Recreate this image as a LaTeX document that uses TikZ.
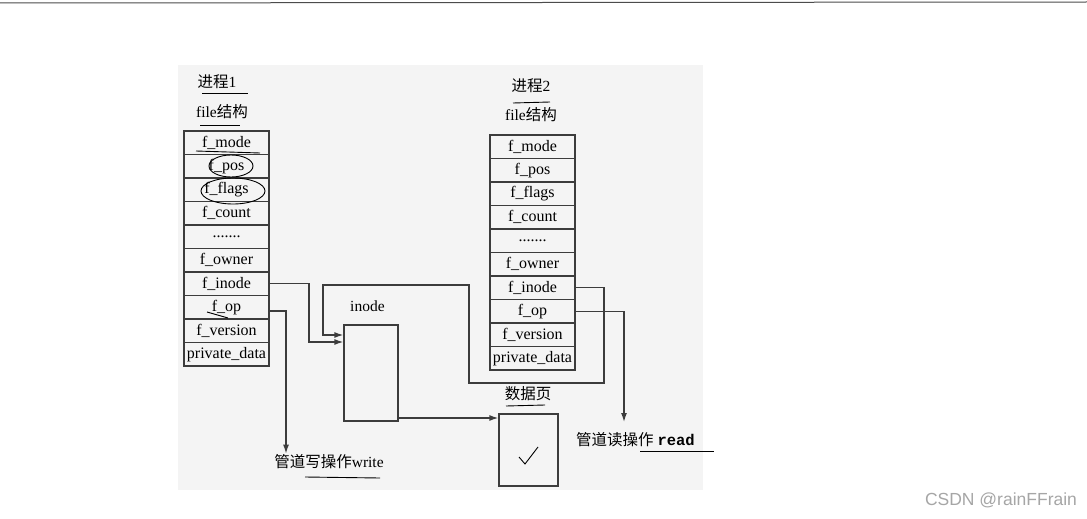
\documentclass[tikz,border=0pt]{standalone}
\usepackage{fontspec}
\setmainfont{Liberation Serif}
\newfontfamily\cjk{Noto Sans CJK SC}
\newfontfamily\wmfont{Liberation Sans}
\newfontfamily\codefont{Liberation Mono}
\usepackage{tikz}
\usetikzlibrary{arrows.meta, positioning}
\definecolor{lineGray}{RGB}{60,60,60}
\definecolor{paperGray}{RGB}{244,244,244}
\newcommand{\rowdots}{.......}

\begin{document}
\begin{tikzpicture}[x=1pt, y=-1pt,
    cell/.style={rectangle, draw=lineGray, line width=1.2pt, minimum width=85pt, minimum height=23.5pt, inner sep=0pt, font=\fontsize{16}{16}\selectfont},
    block/.style={rectangle, draw=lineGray, line width=1.3pt, inner sep=0pt},
    label/.style={inner sep=1pt, font=\fontsize{15.5}{15.5}\selectfont},
    arrow/.style={-{Latex[length=9pt, width=6pt]}, lineGray, line width=1.3pt},
    hand/.style={black, line width=0.9pt}
]
\useasboundingbox (0,0) rectangle (1087,519);
\fill[white] (0,0) rectangle (1087,519);
\draw[black!70, line width=1pt] (0,3) -- (1087,2);
\fill[paperGray] (178,65) rectangle (703,490);

% file structures of both processes
\foreach \name [count=\i] in {f\_mode, f\_pos, f\_flags, f\_count, \rowdots, f\_owner, f\_inode, f\_op, f\_version, private\_data} {
  \node[cell] (l\i) at (226.5, 119.25 + 23.5*\i) {\name};
  \node[cell] (r\i) at (532.5, 123.25 + 23.5*\i) {\name};
}

\node[label] (p1) at (217,82) {{\cjk 进程}1};
\node[label] (s1) at (222,112) {file{\cjk 结构}};
\node[label] (p2) at (531,86) {{\cjk 进程}2};
\node[label] (s2) at (531,115) {file{\cjk 结构}};

\node[label, anchor=west] (inodeLbl) at (349,306) {inode};
\node[block, minimum width=54pt, minimum height=96pt] (inode) at (371,373) {};
\node[label] (pageLbl) at (528,394) {{\cjk 数据页}};
\node[block, minimum width=59pt, minimum height=72pt] (page) at (528.5,450) {};
\node[label] (wr) at (329,462) {{\cjk 管道写操作}write};
\node[label, anchor=west] (rd) at (575,440) {{\cjk 管道读操作} {\codefont\bfseries read}};

\coordinate (inA) at (inode.west |- 0,335);
\coordinate (inB) at (inode.west |- 0,342);
\coordinate (pageIn) at (page.west |- 0,418);

% connectors
\draw[arrow] (l7.east) -| (309,342) -- (inB);
\draw[arrow] (r7.east) -| (604,383) -| (469,285) -| (323,335) -- (inA);
\draw[arrow] (inode.south east |- 0,418) -- (pageIn);
\draw[arrow] (l8.east |- 0,311) -| (wr.north -| 286,0);
\draw[arrow] (r8.east) -| (624,422);

% check mark
\draw[hand] (519,457) -- (525,464) -- (538,447);

% hand-drawn marks
\draw[hand] (231,166) ellipse (22 and 11);
\draw[hand] (233,191) ellipse (32 and 13);
\draw[hand] (196,151) -- (260,153);
\draw[hand] (207,312) -- (228,318);
\draw[hand] (202,93) -- (248,93);
\draw[hand] (200,125) -- (240,125);
\draw[hand] (513,103) -- (550,102);
\draw[hand] (506,406) -- (545,405);
\draw[hand] (305,477) -- (380,478);
\draw[hand] (640,451) -- (714,451);

\node[text=black!35, font=\wmfont\fontsize{17.5}{17.5}\selectfont] (wm) at (1001,500) {CSDN @rainFFrain};
\end{tikzpicture}
\end{document}
